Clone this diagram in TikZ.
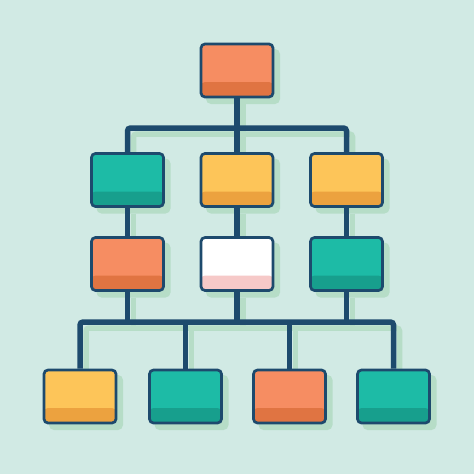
\documentclass[tikz,border=0pt]{standalone}
\usepackage{tikz}
\usetikzlibrary{calc}
\definecolor{bgmint}{HTML}{D1EAE4}
\definecolor{shadowgreen}{HTML}{B6DDC7}
\definecolor{navy}{HTML}{1D4A6D}
\definecolor{teal}{HTML}{1DBBA6}
\definecolor{tealdark}{HTML}{179F8D}
\definecolor{coral}{HTML}{F68D62}
\definecolor{coraldark}{HTML}{E07442}
\definecolor{mustard}{HTML}{FDC559}
\definecolor{mustarddark}{HTML}{ECA23F}
\definecolor{blush}{HTML}{F6C9C8}
\pgfdeclarelayer{back}
\pgfsetlayers{back,main}
\tikzset{org box/.style={draw=navy, line width=2.7pt, rounded corners=4pt,
           minimum width=72pt, minimum height=53pt, inner sep=0pt},
     strip/.style={path picture={\fill[#1] ([yshift=15pt]path picture bounding box.south west)
           rectangle (path picture bounding box.south east);}},
     box shadow/.style={fill=shadowgreen, rounded corners=5pt},
     org line/.style={draw=navy, line width=5.5pt, rounded corners=3pt},
     line shadow/.style={draw=shadowgreen, line width=5.5pt, rounded corners=3pt,
           transform canvas={xshift=6pt, yshift=-6pt}}
     }
\def\OrgBox#1#2#3#4#5{%
 \begin{pgfonlayer}{back}
   \fill[box shadow] (#2-31,#3-21.5) rectangle (#2+43,#3+33.5);
 \end{pgfonlayer}
 \node[org box, fill=#4, strip=#5] (#1) at (#2,#3) {};
}
\def\OrgLinks#1{%
 \draw[#1] (top.south) -- (busA);
 \draw[#1] (b21.north) |- (busA) -| (b23.north);
 \draw[#1] (busA) -- (b22.north);
 \draw[#1] (b21.south) -- (b31.north);
 \draw[#1] (b22.south) -- (b32.north);
 \draw[#1] (b23.south) -- (b33.north);
 \draw[#1] (b41.north) |- (busB) -| (b44.north);
 \draw[#1] (b31.south) -- (b31.south |- busB);
 \draw[#1] (b32.south) -- (busB);
 \draw[#1] (b33.south) -- (b33.south |- busB);
 \draw[#1] (b42.north) -- (b42.north |- busB);
 \draw[#1] (b43.north) -- (b43.north |- busB);
}
\begin{document}
\begin{tikzpicture}[x=1pt, y=-1pt]
\begin{pgfonlayer}{back}
  \fill[bgmint] (0,0) rectangle (474,474);
\end{pgfonlayer}
\useasboundingbox (0,0) rectangle (474,474);
% boxes
\OrgBox{top}{237}{70.5}{coral}{coraldark}
\OrgBox{b21}{127.5}{180}{teal}{tealdark}
\OrgBox{b22}{237}{180}{mustard}{mustarddark}
\OrgBox{b23}{346.5}{180}{mustard}{mustarddark}
\OrgBox{b31}{127.5}{264}{coral}{coraldark}
\OrgBox{b32}{237}{264}{white}{blush}
\OrgBox{b33}{346.5}{264}{teal}{tealdark}
\OrgBox{b41}{80}{396.5}{mustard}{mustarddark}
\OrgBox{b42}{185.5}{396.5}{teal}{tealdark}
\OrgBox{b43}{289.5}{396.5}{coral}{coraldark}
\OrgBox{b44}{393.5}{396.5}{teal}{tealdark}
% buses
\coordinate (busA) at (237,128);
\coordinate (busB) at (237,322);
\begin{pgfonlayer}{back}
  \OrgLinks{line shadow}
\end{pgfonlayer}
\OrgLinks{org line}
\end{tikzpicture}
\end{document}
